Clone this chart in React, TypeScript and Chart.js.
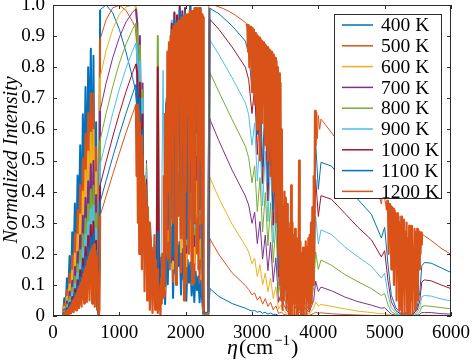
import React, { useEffect, useRef } from 'react';
import { Chart, registerables } from 'chart.js';

Chart.register(...registerables);

// ---------- data ----------
const seriesLabels = ['400 K', '500 K', '600 K', '700 K', '800 K', '900 K', '1000 K', '1100 K', '1200 K'];
const seriesColors = ['#0072BD', '#D95319', '#EDB120', '#7E2F8E', '#77AC30', '#4DBEEE', '#A2142F', '#0072BD', '#D95319'];

const wnCommon = [
  150, 170, 190, 210, 230, 250, 270, 290, 310, 330, 350, 370, 390, 410, 430, 450, 470, 490, 510, 530, 550, 570, 590, 610, 630, 650, 670, 690,
  710, 800, 900, 1000, 1100, 1200, 1250,
  1270, 1290, 1310, 1330, 1350, 1380, 1410, 1440, 1470, 1500, 1530, 1560, 1580, 1600, 1630, 1660, 1690,
  1710, 1730, 1750, 1770, 1790, 1810, 1830, 1850, 1870, 1890, 1910, 1930, 1950, 1970, 1990, 2010, 2030, 2050, 2070, 2090, 2110, 2130, 2150, 2170, 2190, 2210, 2230, 2250, 2265,
  2280, 2340,
  2360, 2500, 2700, 2900,
  2950, 3000, 3040, 3080, 3120, 3160, 3200, 3240, 3280, 3320, 3360, 3400, 3440,
  3480, 3550, 3620, 3700, 3780, 3860, 3930,
  3960, 4000, 4040, 4200, 4400, 4600, 4800, 4950, 5000,
  5050, 5100, 5170, 5250, 5330, 5410, 5490, 5530,
  5560, 5600, 5700, 5850, 6000,
];

const i400 = [
  0, .057, .027, .121, .078, .193, .081, .269, .174, .362, .163, .452, .30, .549, .27, .649, .414, .736, .384, .80, .54, .859, .339, .837, .219, .623, .06, .01,
  .985, 1.0, .975, .922, .849, .766, .72,
  .67, .37, .61, .26, .47, .12, .29, .055, .16, .025, .12, .023, .13, .021, .08, .08, .036,
  .246, .102, .277, .172, .285, .058, .273, .134, .249, .161, .238, .069, .215, .116, .201, .049, .18, .107, .172, .066, .154, .045, .143, .083, .127, .044, .114, .046, .006,
  .002, .003,
  .089, .063, .04, .025,
  .02, .016, .018, .012, .015, .009, .012, .006, .01, .004, .006, .001, .002,
  .001, 0, .001, 0, .001, 0, .001,
  .0014, .001, .0013, .0009, .0005, .0003, .0002, .0001, .0001,
  0, 0, 0, 0, 0, 0, 0, 0,
  0, 0, 0, 0, 0,
];

const i500 = [
  0, .039, .019, .084, .055, .137, .058, .195, .127, .266, .121, .34, .228, .421, .209, .507, .328, .586, .31, .652, .445, .716, .286, .716, .189, .543, .054, .01,
  .89, .952, .991, .999, .983, .946, .923,
  .87, .49, .80, .34, .65, .17, .41, .08, .24, .04, .19, .035, .21, .035, .135, .13, .063,
  .432, .181, .501, .316, .533, .11, .524, .261, .493, .322, .483, .141, .448, .245, .43, .106, .398, .239, .388, .151, .358, .107, .342, .201, .315, .11, .29, .118, .015,
  .003, .005,
  .25, .198, .139, .098,
  .085, .068, .074, .051, .063, .038, .056, .031, .044, .02, .033, .008, .013,
  .005, .002, .006, .001, .004, .002, .008,
  .012, .0085, .0102, .0071, .0048, .0032, .0019, .0013, .0014,
  .0008, .0003, .0001, 0, 0, 0, .0001, .0003,
  .0003, .0003, .0003, .0002, .0002,
];

const i600 = [
  0, .029, .014, .062, .041, .102, .043, .146, .096, .202, .093, .261, .176, .327, .164, .40, .261, .469, .25, .529, .363, .589, .237, .598, .159, .462, .046, .01,
  .767, .853, .922, .97, .994, .999, .995,
  .94, .54, .88, .39, .73, .19, .48, .095, .28, .046, .23, .045, .27, .044, .17, .17, .083,
  .572, .242, .676, .431, .733, .152, .734, .369, .703, .463, .70, .206, .662, .365, .645, .16, .61, .371, .606, .238, .571, .172, .554, .329, .522, .184, .489, .202, .025,
  .004, .006,
  .448, .379, .295, .226,
  .206, .168, .186, .127, .165, .1, .138, .078, .122, .056, .094, .022, .036,
  .015, .005, .02, .003, .012, .006, .025,
  .045, .032, .037, .031, .023, .0155, .011, .0072, .0076,
  .0045, .0017, .0006, .0002, .0002, .0001, .0007, .0015,
  .0026, .0028, .0025, .0018, .0013,
];

const i700 = [
  0, .021, .01, .047, .031, .078, .034, .113, .075, .158, .073, .206, .14, .26, .131, .322, .211, .38, .203, .433, .299, .488, .197, .498, .133, .389, .039, .008,
  .66, .748, .83, .896, .945, .977, .988,
  .94, .55, .90, .40, .75, .2, .50, .1, .3, .05, .245, .049, .29, .048, .19, .19, .095,
  .656, .279, .784, .503, .862, .18, .873, .442, .849, .563, .857, .254, .821, .456, .811, .203, .776, .474, .78, .308, .745, .225, .733, .438, .698, .249, .665, .276, .035,
  .005, .008,
  .635, .564, .469, .386,
  .357, .298, .334, .233, .304, .183, .26, .146, .237, .109, .187, .044, .074,
  .035, .01, .045, .008, .03, .012, .05,
  .112, .079, .093, .081, .061, .046, .035, .025, .027,
  .016, .006, .002, .0005, .0008, .0003, .002, .005,
  .011, .011, .011, .0075, .0062,
];

const i800 = [
  0, .017, .008, .037, .025, .062, .027, .091, .06, .127, .059, .166, .113, .212, .107, .263, .173, .313, .168, .359, .249, .407, .165, .419, .112, .33, .033, .006,
  .565, .651, .737, .813, .874, .922, .942,
  .90, .53, .87, .39, .73, .2, .49, .1, .3, .05, .25, .05, .90, .05, .2, .2, .1,
  .693, .296, .836, .54, .929, .195, .95, .482, .931, .62, .949, .283, .919, .513, .917, .23, .887, .544, .899, .357, .866, .263, .86, .517, .827, .296, .795, .332, .04,
  .006, .01,
  .785, .721, .632, .546,
  .509, .428, .483, .336, .445, .27, .397, .226, .364, .172, .297, .072, .121,
  .06, .02, .08, .015, .05, .02, .09,
  .206, .15, .18, .163, .133, .11, .088, .066, .072,
  .036, .014, .005, .0013, .0022, .0008, .005, .013,
  .03, .033, .031, .027, .023,
];

const i900 = [
  0, .0135, .006, .03, .02, .05, .022, .074, .049, .104, .048, .137, .094, .175, .088, .219, .144, .261, .141, .302, .21, .343, .14, .355, .095, .281, .028, .005,
  .487, .565, .651, .729, .796, .853, .878,
  .84, .50, .82, .37, .70, .19, .47, .095, .29, .049, .245, .049, .30, .05, .2, .79, .1,
  .70, .30, .85, .55, .949, .20, .977, .498, .965, .646, .991, .297, .967, .541, .971, .245, .946, .583, .967, .386, .939, .286, .94, .567, .911, .327, .878, .369, .045,
  .007, .012,
  .889, .841, .766, .686,
  .647, .549, .621, .434, .574, .354, .53, .304, .495, .236, .408, .099, .168,
  .09, .03, .12, .02, .08, .03, .13,
  .32, .231, .277, .262, .222, .19, .16, .122, .138,
  .069, .027, .01, .003, .0045, .0017, .011, .028,
  .062, .066, .064, .055, .048,
];

const i1000 = [
  0, .011, .005, .025, .017, .042, .018, .061, .041, .087, .04, .115, .079, .147, .075, .185, .122, .222, .12, .257, .179, .293, .119, .304, .082, .242, .024, .005,
  .42, .496, .576, .651, .721, .783, .811,
  .78, .46, .75, .34, .65, .17, .44, .09, .27, .046, .235, .047, .80, .048, .19, .19, .097,
  .685, .294, .837, .543, .94, .198, .975, .498, .967, .648, .998, .30, .98, .55, .99, .25, .968, .598, .995, .398, .973, .298, .978, .592, .954, .344, .928, .39, .049,
  .008, .013,
  .955, .922, .865, .80,
  .76, .651, .737, .519, .69, .426, .646, .37, .61, .292, .51, .125, .214,
  .12, .04, .15, .03, .1, .04, .17,
  .439, .32, .387, .375, .33, .285, .245, .19, .21,
  .114, .046, .017, .005, .0075, .003, .019, .05,
  .11, .116, .113, .1, .088,
];

const i1100 = [
  0, .009, .004, .021, .014, .036, .015, .052, .035, .074, .034, .097, .067, .125, .063, .157, .104, .19, .103, .22, .154, .252, .103, .264, .071, .209, .021, .004,
  .366, .435, .511, .583, .651, .715, .744,
  .72, .42, .70, .32, .60, .16, .42, .085, .26, .043, .22, .045, .27, .045, .18, .18, .093,
  .659, .284, .808, .526, .912, .193, .952, .486, .947, .637, .982, .295, .968, .544, .982, .248, .966, .598, .998, .40, .979, .30, .989, .599, .969, .35, .948, .399, .05,
  .009, .014,
  .99, .972, .933, .884,
  .845, .728, .826, .584, .779, .48, .741, .43, .70, .341, .597, .147, .252,
  .14, .05, .18, .035, .12, .05, .2,
  .555, .407, .494, .482, .427, .374, .327, .251, .285,
  .166, .067, .026, .007, .011, .004, .03, .077,
  .161, .172, .17, .155, .14,
];

// 1200 K has its own, denser wavenumber grid: [wavenumber, intensity]
const s1200: [number, number][] = [
  [150, 0], [160, .006], [170, .002], [180, .009], [190, .003], [200, .014], [210, .006], [220, .018], [230, .004], [240, .024],
  [250, .01], [260, .03], [270, .008], [280, .038], [290, .015], [300, .047], [310, .012], [320, .055], [330, .022], [340, .064],
  [350, .018], [360, .074], [370, .03], [380, .085], [390, .025], [400, .096], [410, .04], [420, .106], [430, .03], [440, .12],
  [450, .055], [460, .135], [470, .04], [480, .15], [490, .07], [500, .16], [510, .045], [520, .178], [530, .09], [540, .19],
  [550, .05], [560, .205], [570, .1], [580, .215], [590, .04], [600, .225], [610, .11], [620, .23], [630, .03], [640, .21],
  [650, .08], [660, .19], [670, .02], [680, .14], [690, 0], [700, .02],
  [710, .322], [800, .385], [900, .455], [1000, .523], [1100, .589], [1200, .651], [1250, .68],
  [1260, .45], [1270, .68], [1280, .3], [1290, .66], [1300, .2], [1310, .62], [1320, .35], [1330, .58], [1340, .15], [1350, .52],
  [1360, .25], [1370, .45], [1380, .08], [1390, .42], [1400, .2], [1410, .38], [1420, .05], [1430, .35], [1440, .12], [1450, .3],
  [1460, .02], [1470, .25], [1480, .08], [1490, .22], [1500, .01], [1510, .2], [1520, .06], [1530, .26], [1540, .02], [1550, .18],
  [1560, .05], [1570, .15], [1580, .01], [1590, .1], [1600, .03], [1610, .05], [1620, 0], [1630, .12], [1640, .04], [1650, .2],
  [1660, .06], [1670, .45], [1680, .08], [1690, .65],
  [1700, .6], [1712, .2], [1724, .85], [1736, .4], [1748, .88], [1760, .15], [1772, .9], [1784, .5], [1796, .92], [1808, .3],
  [1820, .93], [1832, .6], [1844, .94], [1856, .1], [1868, .94], [1880, .45], [1892, .95], [1904, .7], [1916, .95], [1928, .25],
  [1940, .96], [1952, .55], [1964, .96], [1976, .05], [1988, .97], [2000, .4], [2012, .97], [2024, .65], [2036, .97], [2048, .2],
  [2060, .98], [2072, .5], [2084, .98], [2096, .1], [2108, .98], [2120, .6], [2132, .99], [2144, .3], [2156, .99], [2168, .75],
  [2180, .99], [2192, .15], [2204, .99], [2216, .5], [2228, .99], [2240, .3], [2252, .97], [2262, .96], [2272, .02],
  [2290, 0], [2335, 0], [2350, 1.0],
  [2450, .998], [2550, .99], [2650, .98], [2750, .967], [2850, .952], [2920, .94],
  [2930, .93], [2940, .85], [2950, .935], [2960, .8], [2970, .93], [2980, .88], [2990, .93], [3000, .72], [3010, .925], [3020, .82],
  [3030, .92], [3040, .68], [3050, .91], [3060, .84], [3070, .905], [3080, .6], [3090, .9], [3100, .78], [3110, .895], [3120, .5],
  [3130, .89], [3140, .7], [3150, .885], [3160, .62], [3170, .88], [3180, .75], [3190, .875], [3200, .55], [3210, .87], [3220, .7],
  [3230, .865], [3240, .5], [3250, .86], [3260, .68], [3270, .855], [3280, .45], [3290, .85], [3300, .6], [3310, .845], [3320, .4],
  [3330, .84], [3340, .55], [3350, .83], [3360, .3], [3370, .82], [3380, .45], [3390, .8], [3400, .2], [3410, .78], [3420, .1],
  [3430, .75], [3440, .05], [3450, .6], [3460, .02],
  [3470, .35], [3480, .05], [3490, .4], [3500, .1], [3510, .38], [3520, .02], [3530, .36], [3540, .08], [3550, .3], [3560, 0],
  [3570, .28], [3580, .06], [3590, .42], [3600, 0], [3610, .3], [3620, .05], [3630, .26], [3640, 0], [3650, .28], [3660, .04],
  [3670, .22], [3680, 0], [3690, .25], [3700, .08], [3710, .5], [3720, .02], [3730, .24], [3740, 0], [3750, .2], [3760, .05],
  [3770, .22], [3780, 0], [3790, .2], [3800, .06], [3810, .24], [3820, 0], [3830, .22], [3840, .05], [3850, .25], [3860, .02],
  [3870, .26], [3880, .08], [3890, .3], [3900, .04], [3910, .35], [3920, .1], [3930, .45], [3940, .2], [3950, .66],
  [3960, .55], [3970, .655], [3985, .57], [4000, .645], [4020, .6], [4040, .633], [4100, .617], [4300, .561], [4500, .504],
  [4700, .452], [4900, .402], [4950, .36], [4970, .39], [5000, .379], [5030, .34], [5040, .37],
  [5050, .36], [5060, .2], [5070, .36], [5080, .25], [5090, .355], [5100, .15], [5110, .35], [5120, .22], [5130, .345], [5140, .1],
  [5150, .34], [5160, .2], [5170, .33], [5180, .05], [5190, .33], [5200, .15], [5210, .32], [5220, .02], [5230, .3], [5240, .12],
  [5250, .32], [5260, 0], [5270, .28], [5280, .08], [5290, .31], [5300, 0], [5310, .27], [5320, .1], [5330, .3], [5340, 0],
  [5350, .25], [5360, .06], [5370, .29], [5380, 0], [5390, .26], [5400, .05], [5410, .29], [5420, 0], [5430, .22], [5440, .1],
  [5450, .28], [5460, .02], [5470, .27], [5480, .12], [5490, .28], [5500, .05], [5510, .275], [5520, .15], [5530, .27], [5540, .2],
  [5550, .268], [5560, .23], [5575, .262], [5600, .258], [5700, .243], [5850, .218], [6000, .198],
];

const commonSeries = [i400, i500, i600, i700, i800, i900, i1000, i1100];

const xTitleParts = { symbol: 'η', open: '(cm', sup: '−1', close: ')' };
const yTitle = 'Normalized Intensity';

const SERIF = "'Liberation Serif', 'Times New Roman', 'DejaVu Serif', serif";
const FRAME = '#2b2b2b';

const framePlugin = {
  id: 'matlabFrame',
  afterDatasetsDraw(chart: any) {
    const { ctx, chartArea: a, scales } = chart;
    ctx.save();
    ctx.strokeStyle = FRAME;
    ctx.lineWidth = 1;
    ctx.strokeRect(Math.round(a.left) + 0.5, Math.round(a.top) + 0.5, Math.round(a.right - a.left) - 1, Math.round(a.bottom - a.top) - 1);
    const tl = 4;
    ctx.beginPath();
    for (let v = 0; v <= 6000; v += 1000) {
      const px = Math.round(scales.x.getPixelForValue(v)) + 0.5;
      ctx.moveTo(px, a.bottom); ctx.lineTo(px, a.bottom - tl);
      ctx.moveTo(px, a.top); ctx.lineTo(px, a.top + tl);
    }
    for (let k = 0; k <= 10; k++) {
      const py = Math.round(scales.y.getPixelForValue(k / 10)) + 0.5;
      ctx.moveTo(a.left, py); ctx.lineTo(a.left + tl, py);
      ctx.moveTo(a.right, py); ctx.lineTo(a.right - tl, py);
    }
    ctx.stroke();

    // legend box
    const lx = 334, ly = 14, lw = 107, lh = 184;
    ctx.fillStyle = '#ffffff';
    ctx.fillRect(lx, ly, lw, lh);
    ctx.strokeStyle = FRAME;
    ctx.strokeRect(lx + 0.5, ly + 0.5, lw, lh);
    ctx.font = `19.5px ${SERIF}`;
    ctx.textBaseline = 'middle';
    ctx.textAlign = 'left';
    seriesLabels.forEach((lab, i) => {
      const y = 25 + i * 20.8;
      ctx.strokeStyle = seriesColors[i];
      ctx.lineWidth = 1.5;
      ctx.beginPath();
      ctx.moveTo(342, y); ctx.lineTo(373, y);
      ctx.stroke();
      ctx.fillStyle = '#000';
      ctx.fillText(lab, 381, y + 1);
    });

    // axis titles
    ctx.fillStyle = '#000';
    ctx.textBaseline = 'alphabetic';
    let x = 227;
    const base = 354;
    ctx.font = `italic 22px ${SERIF}`;
    ctx.fillText(xTitleParts.symbol, x, base);
    x += ctx.measureText(xTitleParts.symbol).width + 1;
    ctx.font = `22px ${SERIF}`;
    ctx.fillText(xTitleParts.open, x, base);
    x += ctx.measureText(xTitleParts.open).width + 1;
    ctx.font = `15px ${SERIF}`;
    ctx.fillText(xTitleParts.sup, x, base - 9);
    x += ctx.measureText(xTitleParts.sup).width + 1;
    ctx.font = `22px ${SERIF}`;
    ctx.fillText(xTitleParts.close, x, base);

    ctx.save();
    ctx.translate(12, 160);
    ctx.rotate(-Math.PI / 2);
    ctx.font = `italic 20px ${SERIF}`;
    ctx.textAlign = 'center';
    ctx.textBaseline = 'middle';
    ctx.fillText(yTitle, 0, 0);
    ctx.restore();

    ctx.restore();
  },
};

// thicker strokes where points are densely packed (absorption-line regions)
const denseWidth = (limit: number, thick: number) => (c: any) =>
  c.p1.parsed.x - c.p0.parsed.x <= limit ? thick : 1;

export default function App() {
  const ref = useRef<HTMLCanvasElement | null>(null);

  useEffect(() => {
    if (!ref.current) return;
    const datasets: any[] = commonSeries.map((ys, i) => ({
      label: seriesLabels[i],
      data: wnCommon.slice(0, ys.length).map((x, j) => ({ x, y: ys[j] })),
      borderColor: seriesColors[i],
      backgroundColor: seriesColors[i],
      order: 8 - i,
      segment: { borderWidth: denseWidth(20, 2) },
    }));
    datasets.push({
      label: seriesLabels[8],
      data: s1200.map(([x, y]) => ({ x, y })),
      borderColor: seriesColors[8],
      backgroundColor: seriesColors[8],
      order: 0,
      segment: { borderWidth: denseWidth(12, 2.2) },
    });

    const tickFont = { family: SERIF, size: 19 };
    const chart = new Chart(ref.current, {
      type: 'line',
      data: { datasets },
      options: {
        animation: false,
        responsive: false,
        devicePixelRatio: 1,
        layout: { padding: { left: 0, right: 23, top: 5, bottom: 0 }, autoPadding: false },
        plugins: { legend: { display: false }, tooltip: { enabled: false } },
        elements: {
          point: { radius: 0, hoverRadius: 0 },
          line: { borderWidth: 1, tension: 0, borderJoinStyle: 'round', fill: false },
        },
        scales: {
          x: {
            type: 'linear', min: 0, max: 6000,
            ticks: { stepSize: 1000, font: tickFont, color: '#000', padding: 6, maxRotation: 0, autoSkip: false, callback: (v: any) => String(v) },
            grid: { display: false, drawTicks: false },
            border: { display: false },
            afterFit: (s: any) => { s.height = 46; s.paddingLeft = 0; s.paddingRight = 0; },
          },
          y: {
            type: 'linear', min: 0, max: 1,
            ticks: { stepSize: 0.1, font: tickFont, color: '#000', padding: 8, autoSkip: false },
            grid: { display: false, drawTicks: false },
            border: { display: false },
            afterFit: (s: any) => { s.width = 53; s.paddingTop = 0; s.paddingBottom = 0; },
          },
        },
      } as any,
      plugins: [framePlugin],
    });
    return () => chart.destroy();
  }, []);

  return (
    <div style={{ position: 'fixed', left: 0, top: 0, width: 474, height: 362, background: '#fff' }}>
      <canvas ref={ref} width={474} height={362} style={{ display: 'block' }} />
    </div>
  );
}
